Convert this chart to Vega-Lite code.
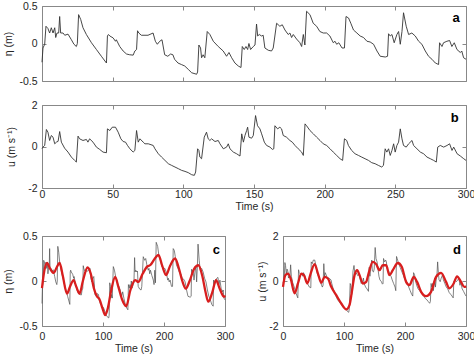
{
 "$schema": "https://vega.github.io/schema/vega-lite/v6.json",
 "background": "white",
 "padding": {"left": 3, "top": 0, "right": 0, "bottom": 0},
 "bounds": "full",
 "spacing": 17,
 "datasets": {
  "eta": [
{"t":0,"v":-0.25},{"t":0.7,"v":-0.06},{"t":1.9,"v":-0.01},{"t":2.8,"v":0.23},{"t":4.2,"v":0.2},{"t":5.4,"v":0.14},{"t":6.6,"v":0.21},{"t":7.8,"v":0.14},{"t":9,"v":0.21},{"t":9.7,"v":0.08},{"t":10.6,"v":0.14},{"t":11.8,"v":0.14},{"t":12.5,"v":0.36},{"t":13.2,"v":0.14},{"t":14.9,"v":0.14},{"t":16.1,"v":0.11},{"t":18.4,"v":0.125},{"t":20.8,"v":0.05},{"t":22.6,"v":-0.01},{"t":24.3,"v":-0.04},{"t":25,"v":0.0},{"t":25.9,"v":0.385},{"t":27.4,"v":0.32},{"t":29,"v":0.21},{"t":31.4,"v":0.12},{"t":35,"v":0.01},{"t":38.5,"v":-0.08},{"t":42,"v":-0.17},{"t":45.6,"v":-0.26},{"t":46.3,"v":0.1},{"t":47,"v":0.12},{"t":48,"v":0.1},{"t":50.3,"v":0.075},{"t":52,"v":0.03},{"t":52.6,"v":0.05},{"t":55,"v":-0.04},{"t":57.4,"v":-0.1},{"t":59.8,"v":-0.14},{"t":62,"v":-0.15},{"t":64.5,"v":-0.155},{"t":65.7,"v":-0.1},{"t":66.9,"v":-0.08},{"t":67.6,"v":0.17},{"t":68.5,"v":0.14},{"t":70.3,"v":0.11},{"t":75,"v":0.11},{"t":78.6,"v":0.14},{"t":80.2,"v":0.03},{"t":81.6,"v":-0.01},{"t":83.3,"v":0.03},{"t":84.9,"v":0.05},{"t":86.8,"v":-0.15},{"t":89,"v":-0.17},{"t":91,"v":-0.14},{"t":92.6,"v":-0.15},{"t":93.8,"v":-0.21},{"t":96.2,"v":-0.26},{"t":98.6,"v":-0.28},{"t":101,"v":-0.3},{"t":103.5,"v":-0.345},{"t":105.9,"v":-0.39},{"t":109.4,"v":-0.41},{"t":110.1,"v":-0.38},{"t":111,"v":-0.02},{"t":112.2,"v":-0.06},{"t":112.9,"v":-0.19},{"t":114,"v":-0.15},{"t":115.2,"v":-0.19},{"t":116.9,"v":0.16},{"t":118.8,"v":0.12},{"t":121.2,"v":0.03},{"t":124.7,"v":-0.04},{"t":128.2,"v":-0.1},{"t":130.6,"v":-0.17},{"t":132.3,"v":-0.12},{"t":134.2,"v":-0.19},{"t":136.5,"v":-0.26},{"t":138.9,"v":-0.3},{"t":140.8,"v":-0.32},{"t":141.7,"v":-0.04},{"t":143.1,"v":-0.08},{"t":144.3,"v":-0.04},{"t":145.5,"v":-0.08},{"t":146.4,"v":0.0},{"t":147.6,"v":-0.08},{"t":149.5,"v":-0.04},{"t":150.7,"v":-0.02},{"t":151.8,"v":0.26},{"t":152.6,"v":0.1},{"t":153.7,"v":0.12},{"t":155.4,"v":0.1},{"t":156.5,"v":0.11},{"t":157.7,"v":-0.06},{"t":160.1,"v":-0.09},{"t":162.4,"v":-0.1},{"t":163.6,"v":-0.06},{"t":166,"v":0.27},{"t":168.3,"v":0.23},{"t":170,"v":0.25},{"t":171.9,"v":0.18},{"t":174.2,"v":0.12},{"t":175.4,"v":0.14},{"t":176.6,"v":0.08},{"t":177.8,"v":0.12},{"t":180.1,"v":0.06},{"t":182.5,"v":0.01},{"t":183.7,"v":-0.04},{"t":184.9,"v":0.12},{"t":186,"v":-0.02},{"t":187.2,"v":0.43},{"t":189.6,"v":0.385},{"t":191.9,"v":0.27},{"t":194.3,"v":0.23},{"t":196.6,"v":0.16},{"t":199,"v":0.14},{"t":201.4,"v":0.14},{"t":203.7,"v":0.1},{"t":206.1,"v":0.01},{"t":207.3,"v":0.03},{"t":208.5,"v":-0.01},{"t":210,"v":0.01},{"t":212.3,"v":-0.06},{"t":214,"v":-0.06},{"t":215.1,"v":0.36},{"t":216.9,"v":0.34},{"t":218.5,"v":0.27},{"t":220.4,"v":0.18},{"t":222.8,"v":0.14},{"t":225.1,"v":0.1},{"t":227.5,"v":0.08},{"t":229.9,"v":0.03},{"t":232.2,"v":0.02},{"t":234.6,"v":-0.01},{"t":237,"v":-0.1},{"t":239.3,"v":-0.17},{"t":242.9,"v":-0.18},{"t":244.5,"v":-0.17},{"t":245.2,"v":0.13},{"t":246.4,"v":0.1},{"t":247.6,"v":0.12},{"t":249.2,"v":0.01},{"t":251.1,"v":0.12},{"t":252.3,"v":0.16},{"t":253.5,"v":-0.01},{"t":254.7,"v":0.16},{"t":255.8,"v":0.41},{"t":257.7,"v":0.23},{"t":259.4,"v":0.12},{"t":261.7,"v":0.14},{"t":264.1,"v":0.1},{"t":266.5,"v":0.03},{"t":268.8,"v":-0.01},{"t":271.2,"v":-0.1},{"t":273.5,"v":-0.17},{"t":275.9,"v":-0.21},{"t":278.3,"v":-0.26},{"t":280.6,"v":-0.28},{"t":281.3,"v":0.01},{"t":283,"v":-0.04},{"t":284.1,"v":0.01},{"t":286.5,"v":0.03},{"t":288.4,"v":0.04},{"t":290,"v":-0.04},{"t":291.7,"v":0.01},{"t":293.6,"v":-0.08},{"t":296,"v":-0.12},{"t":297,"v":-0.1},{"t":298.3,"v":-0.19},{"t":300,"v":-0.21}
  ],
  "u": [
{"t":0,"v":-0.1},{"t":0.7,"v":-0.03},{"t":1.9,"v":0.05},{"t":3.1,"v":0.82},{"t":4.2,"v":0.69},{"t":5.4,"v":0.29},{"t":6.6,"v":0.53},{"t":7.8,"v":0.45},{"t":9,"v":0.13},{"t":10.2,"v":0.21},{"t":11.4,"v":0.25},{"t":12.5,"v":0.72},{"t":13.7,"v":0.21},{"t":16,"v":-0.08},{"t":18.4,"v":-0.27},{"t":20.8,"v":-0.51},{"t":23.1,"v":-0.67},{"t":24.3,"v":-0.75},{"t":25.5,"v":0.5},{"t":26.6,"v":0.37},{"t":29,"v":0.29},{"t":31.4,"v":0.34},{"t":32.5,"v":0.21},{"t":33.7,"v":0.37},{"t":36.1,"v":0.21},{"t":38.5,"v":-0.03},{"t":40.8,"v":-0.14},{"t":43.2,"v":-0.27},{"t":45.6,"v":-0.3},{"t":46.3,"v":0.85},{"t":48,"v":0.77},{"t":49.7,"v":0.93},{"t":52,"v":0.93},{"t":53.9,"v":0.69},{"t":55.8,"v":0.37},{"t":57.4,"v":0.24},{"t":59.1,"v":0.21},{"t":60.5,"v":0.05},{"t":62.2,"v":-0.11},{"t":64.5,"v":-0.27},{"t":65.7,"v":-0.19},{"t":66.9,"v":0.77},{"t":68.1,"v":0.21},{"t":69.3,"v":0.37},{"t":71.6,"v":0.21},{"t":72.8,"v":0.13},{"t":75.2,"v":0.13},{"t":78.7,"v":0.05},{"t":79.9,"v":-0.11},{"t":82.3,"v":-0.35},{"t":84.6,"v":-0.51},{"t":87,"v":-0.67},{"t":89.4,"v":-0.83},{"t":91.7,"v":-0.91},{"t":94.1,"v":-0.99},{"t":96.5,"v":-1.07},{"t":98.8,"v":-1.15},{"t":101.2,"v":-1.2},{"t":103.5,"v":-1.26},{"t":105.9,"v":-1.36},{"t":107.8,"v":-1.39},{"t":108.7,"v":-1.23},{"t":110.1,"v":-0.11},{"t":111,"v":-0.19},{"t":111.7,"v":-0.51},{"t":112.9,"v":-0.59},{"t":114.8,"v":0.45},{"t":116.4,"v":0.69},{"t":117.6,"v":0.37},{"t":118.8,"v":0.29},{"t":120,"v":0.37},{"t":122.4,"v":0.24},{"t":124.7,"v":0.29},{"t":125.9,"v":0.13},{"t":128.3,"v":-0.11},{"t":130.6,"v":-0.03},{"t":131.8,"v":0.13},{"t":133,"v":-0.11},{"t":135.4,"v":-0.27},{"t":137.7,"v":-0.35},{"t":140.1,"v":-0.46},{"t":141.3,"v":0.61},{"t":142.5,"v":0.21},{"t":143.6,"v":0.53},{"t":144.8,"v":0.77},{"t":145.5,"v":0.93},{"t":146.4,"v":0.45},{"t":148.3,"v":0.4},{"t":149.5,"v":0.53},{"t":151.1,"v":1.49},{"t":152.5,"v":1.0},{"t":154.2,"v":0.85},{"t":155.4,"v":0.61},{"t":157.3,"v":0.21},{"t":158.9,"v":0.05},{"t":161.3,"v":-0.03},{"t":163,"v":-0.14},{"t":164,"v":-0.11},{"t":164.8,"v":1.0},{"t":166.7,"v":0.85},{"t":168.3,"v":0.93},{"t":169.5,"v":0.85},{"t":170.7,"v":0.53},{"t":173,"v":0.45},{"t":175.4,"v":0.29},{"t":177.1,"v":0.21},{"t":179,"v":0.05},{"t":181.3,"v":-0.11},{"t":183.7,"v":-0.27},{"t":184.9,"v":-0.43},{"t":186.1,"v":1.09},{"t":187.2,"v":1.0},{"t":189.6,"v":0.77},{"t":192,"v":0.61},{"t":194.3,"v":0.45},{"t":196.7,"v":0.29},{"t":199,"v":0.13},{"t":201.4,"v":0.05},{"t":203.8,"v":-0.11},{"t":206.1,"v":-0.27},{"t":208.5,"v":-0.43},{"t":210.9,"v":-0.59},{"t":212.7,"v":-0.67},{"t":214,"v":0.37},{"t":215.6,"v":0.29},{"t":216.8,"v":0.05},{"t":219.1,"v":-0.19},{"t":221.5,"v":-0.35},{"t":223.9,"v":-0.43},{"t":226.2,"v":-0.51},{"t":228.6,"v":-0.59},{"t":231,"v":-0.67},{"t":233.3,"v":-0.78},{"t":235.7,"v":-0.83},{"t":238,"v":-0.91},{"t":240.4,"v":-0.99},{"t":241.6,"v":-0.91},{"t":242.8,"v":-0.11},{"t":244,"v":-0.27},{"t":245.2,"v":-0.11},{"t":246.4,"v":-0.43},{"t":247.6,"v":-0.19},{"t":248.8,"v":0.13},{"t":249.9,"v":-0.27},{"t":251.1,"v":0.05},{"t":252.3,"v":0.21},{"t":253.5,"v":0.85},{"t":254.7,"v":0.37},{"t":255.8,"v":0.05},{"t":257.7,"v":-0.03},{"t":259.4,"v":0.13},{"t":261.8,"v":0.29},{"t":262.9,"v":0.05},{"t":265.3,"v":-0.11},{"t":267.7,"v":-0.27},{"t":270,"v":-0.35},{"t":272.4,"v":-0.51},{"t":274.8,"v":-0.59},{"t":277.1,"v":-0.67},{"t":279,"v":-0.75},{"t":280,"v":-0.03},{"t":281.8,"v":0.05},{"t":284.2,"v":-0.03},{"t":286.6,"v":0.05},{"t":288.4,"v":0.13},{"t":290.1,"v":-0.19},{"t":291.3,"v":-0.03},{"t":293.7,"v":-0.35},{"t":296,"v":-0.46},{"t":298.4,"v":-0.59},{"t":300,"v":-0.67}
  ],
  "etaf": [
{"t":0,"v":-0.08},{"t":3,"v":0.08},{"t":8.2,"v":0.2},{"t":13,"v":0.14},{"t":19.1,"v":0.09},{"t":24,"v":0.15},{"t":28.9,"v":0.2},{"t":34,"v":0.06},{"t":40.9,"v":-0.14},{"t":46,"v":-0.06},{"t":51.8,"v":0.01},{"t":56,"v":-0.06},{"t":61.6,"v":-0.14},{"t":67,"v":0.0},{"t":74.7,"v":0.15},{"t":80,"v":0.08},{"t":85,"v":-0.08},{"t":90,"v":-0.17},{"t":94,"v":-0.2},{"t":99,"v":-0.3},{"t":103.6,"v":-0.38},{"t":108,"v":-0.3},{"t":113,"v":-0.12},{"t":120,"v":0.046},{"t":125,"v":-0.06},{"t":131,"v":-0.2},{"t":138,"v":-0.28},{"t":145,"v":-0.1},{"t":152.7,"v":0.01},{"t":158,"v":-0.01},{"t":165,"v":0.08},{"t":171.8,"v":0.157},{"t":178,"v":0.18},{"t":184,"v":0.24},{"t":190.9,"v":0.29},{"t":197,"v":0.17},{"t":203.4,"v":0.065},{"t":210,"v":0.17},{"t":218.2,"v":0.25},{"t":224,"v":0.15},{"t":230,"v":0.0},{"t":235.6,"v":-0.085},{"t":242,"v":0.0},{"t":249,"v":0.13},{"t":256.4,"v":0.175},{"t":263,"v":0.05},{"t":268,"v":-0.12},{"t":272.7,"v":-0.23},{"t":279,"v":-0.13},{"t":285.3,"v":0.01},{"t":291,"v":-0.08},{"t":298.4,"v":-0.175},{"t":300,"v":-0.16}
  ],
  "uf": [
{"t":0,"v":-0.26},{"t":3.8,"v":0.26},{"t":8.2,"v":0.33},{"t":12.5,"v":0.11},{"t":19.1,"v":-0.55},{"t":24.5,"v":-0.11},{"t":30,"v":0.33},{"t":34.4,"v":0.26},{"t":39.8,"v":-0.11},{"t":45.3,"v":0.33},{"t":51.8,"v":0.75},{"t":57.3,"v":0.33},{"t":62.7,"v":-0.08},{"t":68.2,"v":0.18},{"t":73.6,"v":0.11},{"t":79.1,"v":-0.26},{"t":87.3,"v":-0.63},{"t":95.5,"v":-1.0},{"t":103.6,"v":-1.26},{"t":109,"v":-1.07},{"t":112.9,"v":-0.48},{"t":117.3,"v":0.26},{"t":121.6,"v":0.48},{"t":125.5,"v":0.26},{"t":130.9,"v":-0.11},{"t":136.4,"v":-0.04},{"t":140.2,"v":0.33},{"t":147.3,"v":0.85},{"t":152.7,"v":0.75},{"t":158.2,"v":0.48},{"t":163.6,"v":0.7},{"t":169.1,"v":0.7},{"t":174.5,"v":0.26},{"t":180,"v":0.48},{"t":188.2,"v":0.8},{"t":194.7,"v":0.63},{"t":201.8,"v":-0.04},{"t":207.3,"v":-0.18},{"t":214.3,"v":0.18},{"t":219.8,"v":-0.04},{"t":226.4,"v":-0.48},{"t":234.5,"v":-0.67},{"t":242.7,"v":-0.48},{"t":250.9,"v":0.18},{"t":259.1,"v":0.36},{"t":267.3,"v":-0.04},{"t":272.7,"v":-0.33},{"t":279.8,"v":-0.11},{"t":285.3,"v":0.21},{"t":291.8,"v":-0.04},{"t":297.3,"v":-0.26},{"t":300,"v":-0.23}
  ]
 },
 "vconcat": [
  {
   "bounds": "flush",
   "spacing": 24,
   "vconcat": [
    {
     "width": 424, "height": 75,
     "layer": [
      {"data": {"name": "eta"}, "mark": {"type": "line", "color": "#333333", "strokeWidth": 0.9},
       "encoding": {
        "x": {"field": "t", "type": "quantitative", "scale": {"domain": [0, 300], "nice": false, "zero": false},
              "axis": {"orient": "bottom", "values": [0, 50, 100, 150, 200, 250, 300], "labels": false, "title": null}},
        "y": {"field": "v", "type": "quantitative", "scale": {"domain": [-0.5, 0.5], "nice": false},
              "axis": {"orient": "left", "values": [-0.5, 0, 0.5], "title": "η (m)", "labelExpr": "'' + datum.value", "titlePadding": 5}}
       }},
      {"data": {"name": "eta"}, "mark": {"type": "line", "opacity": 0},
       "encoding": {
        "x": {"field": "t", "type": "quantitative", "axis": {"orient": "top", "values": [0, 50, 100, 150, 200, 250, 300], "labels": false, "title": null}},
        "y": {"field": "v", "type": "quantitative", "axis": {"orient": "right", "values": [-0.5, 0, 0.5], "labels": false, "title": null}}
       }},
      {"data": {"values": [{}]}, "mark": {"type": "text", "text": "a", "fontWeight": "bold", "fontSize": 13, "font": "Liberation Sans", "color": "#000000"},
       "encoding": {"x": {"datum": 293, "type": "quantitative", "axis": null}, "y": {"datum": 0.34, "type": "quantitative", "axis": null}}}
     ]
    },
    {
     "width": 424, "height": 83,
     "layer": [
      {"data": {"name": "u"}, "mark": {"type": "line", "color": "#333333", "strokeWidth": 0.9},
       "encoding": {
        "x": {"field": "t", "type": "quantitative", "scale": {"domain": [0, 300], "nice": false, "zero": false},
              "axis": {"orient": "bottom", "values": [0, 50, 100, 150, 200, 250, 300], "title": "Time (s)", "labelPadding": 5, "titlePadding": 2}},
        "y": {"field": "v", "type": "quantitative", "scale": {"domain": [-2, 2], "nice": false},
              "axis": {"orient": "left", "values": [-2, 0, 2], "title": "u (m s⁻¹)", "labelExpr": "'' + datum.value", "titlePadding": 11}}
       }},
      {"data": {"name": "u"}, "mark": {"type": "line", "opacity": 0},
       "encoding": {
        "x": {"field": "t", "type": "quantitative", "axis": {"orient": "top", "values": [0, 50, 100, 150, 200, 250, 300], "labels": false, "title": null}},
        "y": {"field": "v", "type": "quantitative", "axis": {"orient": "right", "values": [-2, 0, 2], "labels": false, "title": null}}
       }},
      {"data": {"values": [{}]}, "mark": {"type": "text", "text": "b", "fontWeight": "bold", "fontSize": 13, "font": "Liberation Sans", "color": "#000000"},
       "encoding": {"x": {"datum": 292, "type": "quantitative", "axis": null}, "y": {"datum": 1.36, "type": "quantitative", "axis": null}}}
     ]
    }
   ]
  },
  {
   "bounds": "flush",
   "spacing": 58,
   "hconcat": [
    {
     "width": 183, "height": 90,
     "layer": [
      {"data": {"name": "eta"}, "mark": {"type": "line", "color": "#4d4d4d", "strokeWidth": 0.7},
       "encoding": {
        "x": {"field": "t", "type": "quantitative", "scale": {"domain": [0, 300], "nice": false, "zero": false},
              "axis": {"orient": "bottom", "values": [0, 100, 200, 300], "title": "Time (s)", "titlePadding": 2}},
        "y": {"field": "v", "type": "quantitative", "scale": {"domain": [-0.5, 0.5], "nice": false},
              "axis": {"orient": "left", "values": [-0.5, 0, 0.5], "title": "η (m)", "labelExpr": "'' + datum.value", "titlePadding": 5}}
       }},
      {"data": {"name": "etaf"}, "mark": {"type": "line", "color": "#d81e1e", "strokeWidth": 2.3, "interpolate": "monotone"},
       "encoding": {
        "x": {"field": "t", "type": "quantitative", "axis": {"orient": "top", "values": [0, 100, 200, 300], "labels": false, "title": null}},
        "y": {"field": "v", "type": "quantitative", "axis": {"orient": "right", "values": [-0.5, 0, 0.5], "labels": false, "title": null}}
       }},
      {"data": {"values": [{}]}, "mark": {"type": "text", "text": "c", "fontWeight": "bold", "fontSize": 13, "font": "Liberation Sans", "color": "#000000"},
       "encoding": {"x": {"datum": 286, "type": "quantitative", "axis": null}, "y": {"datum": 0.34, "type": "quantitative", "axis": null}}}
     ]
    },
    {
     "width": 183, "height": 90,
     "layer": [
      {"data": {"name": "u"}, "mark": {"type": "line", "color": "#4d4d4d", "strokeWidth": 0.7},
       "encoding": {
        "x": {"field": "t", "type": "quantitative", "scale": {"domain": [0, 300], "nice": false, "zero": false},
              "axis": {"orient": "bottom", "values": [0, 100, 200, 300], "title": "Time (s)", "titlePadding": 2}},
        "y": {"field": "v", "type": "quantitative", "scale": {"domain": [-2, 2], "nice": false},
              "axis": {"orient": "left", "values": [-2, 0, 2], "title": "u (m s⁻¹)", "labelExpr": "'' + datum.value", "titlePadding": 1}}
       }},
      {"data": {"name": "uf"}, "mark": {"type": "line", "color": "#d81e1e", "strokeWidth": 2.3, "interpolate": "monotone"},
       "encoding": {
        "x": {"field": "t", "type": "quantitative", "axis": {"orient": "top", "values": [0, 100, 200, 300], "labels": false, "title": null}},
        "y": {"field": "v", "type": "quantitative", "axis": {"orient": "right", "values": [-2, 0, 2], "labels": false, "title": null}}
       }},
      {"data": {"values": [{}]}, "mark": {"type": "text", "text": "d", "fontWeight": "bold", "fontSize": 13, "font": "Liberation Sans", "color": "#000000"},
       "encoding": {"x": {"datum": 285, "type": "quantitative", "axis": null}, "y": {"datum": 1.39, "type": "quantitative", "axis": null}}}
     ]
    }
   ]
  }
 ],
 "config": {
  "font": "Liberation Sans",
  "view": {"stroke": "#888888", "strokeWidth": 1},
  "axis": {"domain": false, "grid": false, "ticks": true, "tickColor": "#888888", "tickSize": -4, "tickWidth": 1,
           "labelFont": "Liberation Sans", "labelFontSize": 10.5, "labelColor": "#262626", "labelPadding": 9, "labelFlush": false,
           "titleFont": "Liberation Sans", "titleFontSize": 10.5, "titleFontWeight": "normal", "titleColor": "#262626"}
 }
}
